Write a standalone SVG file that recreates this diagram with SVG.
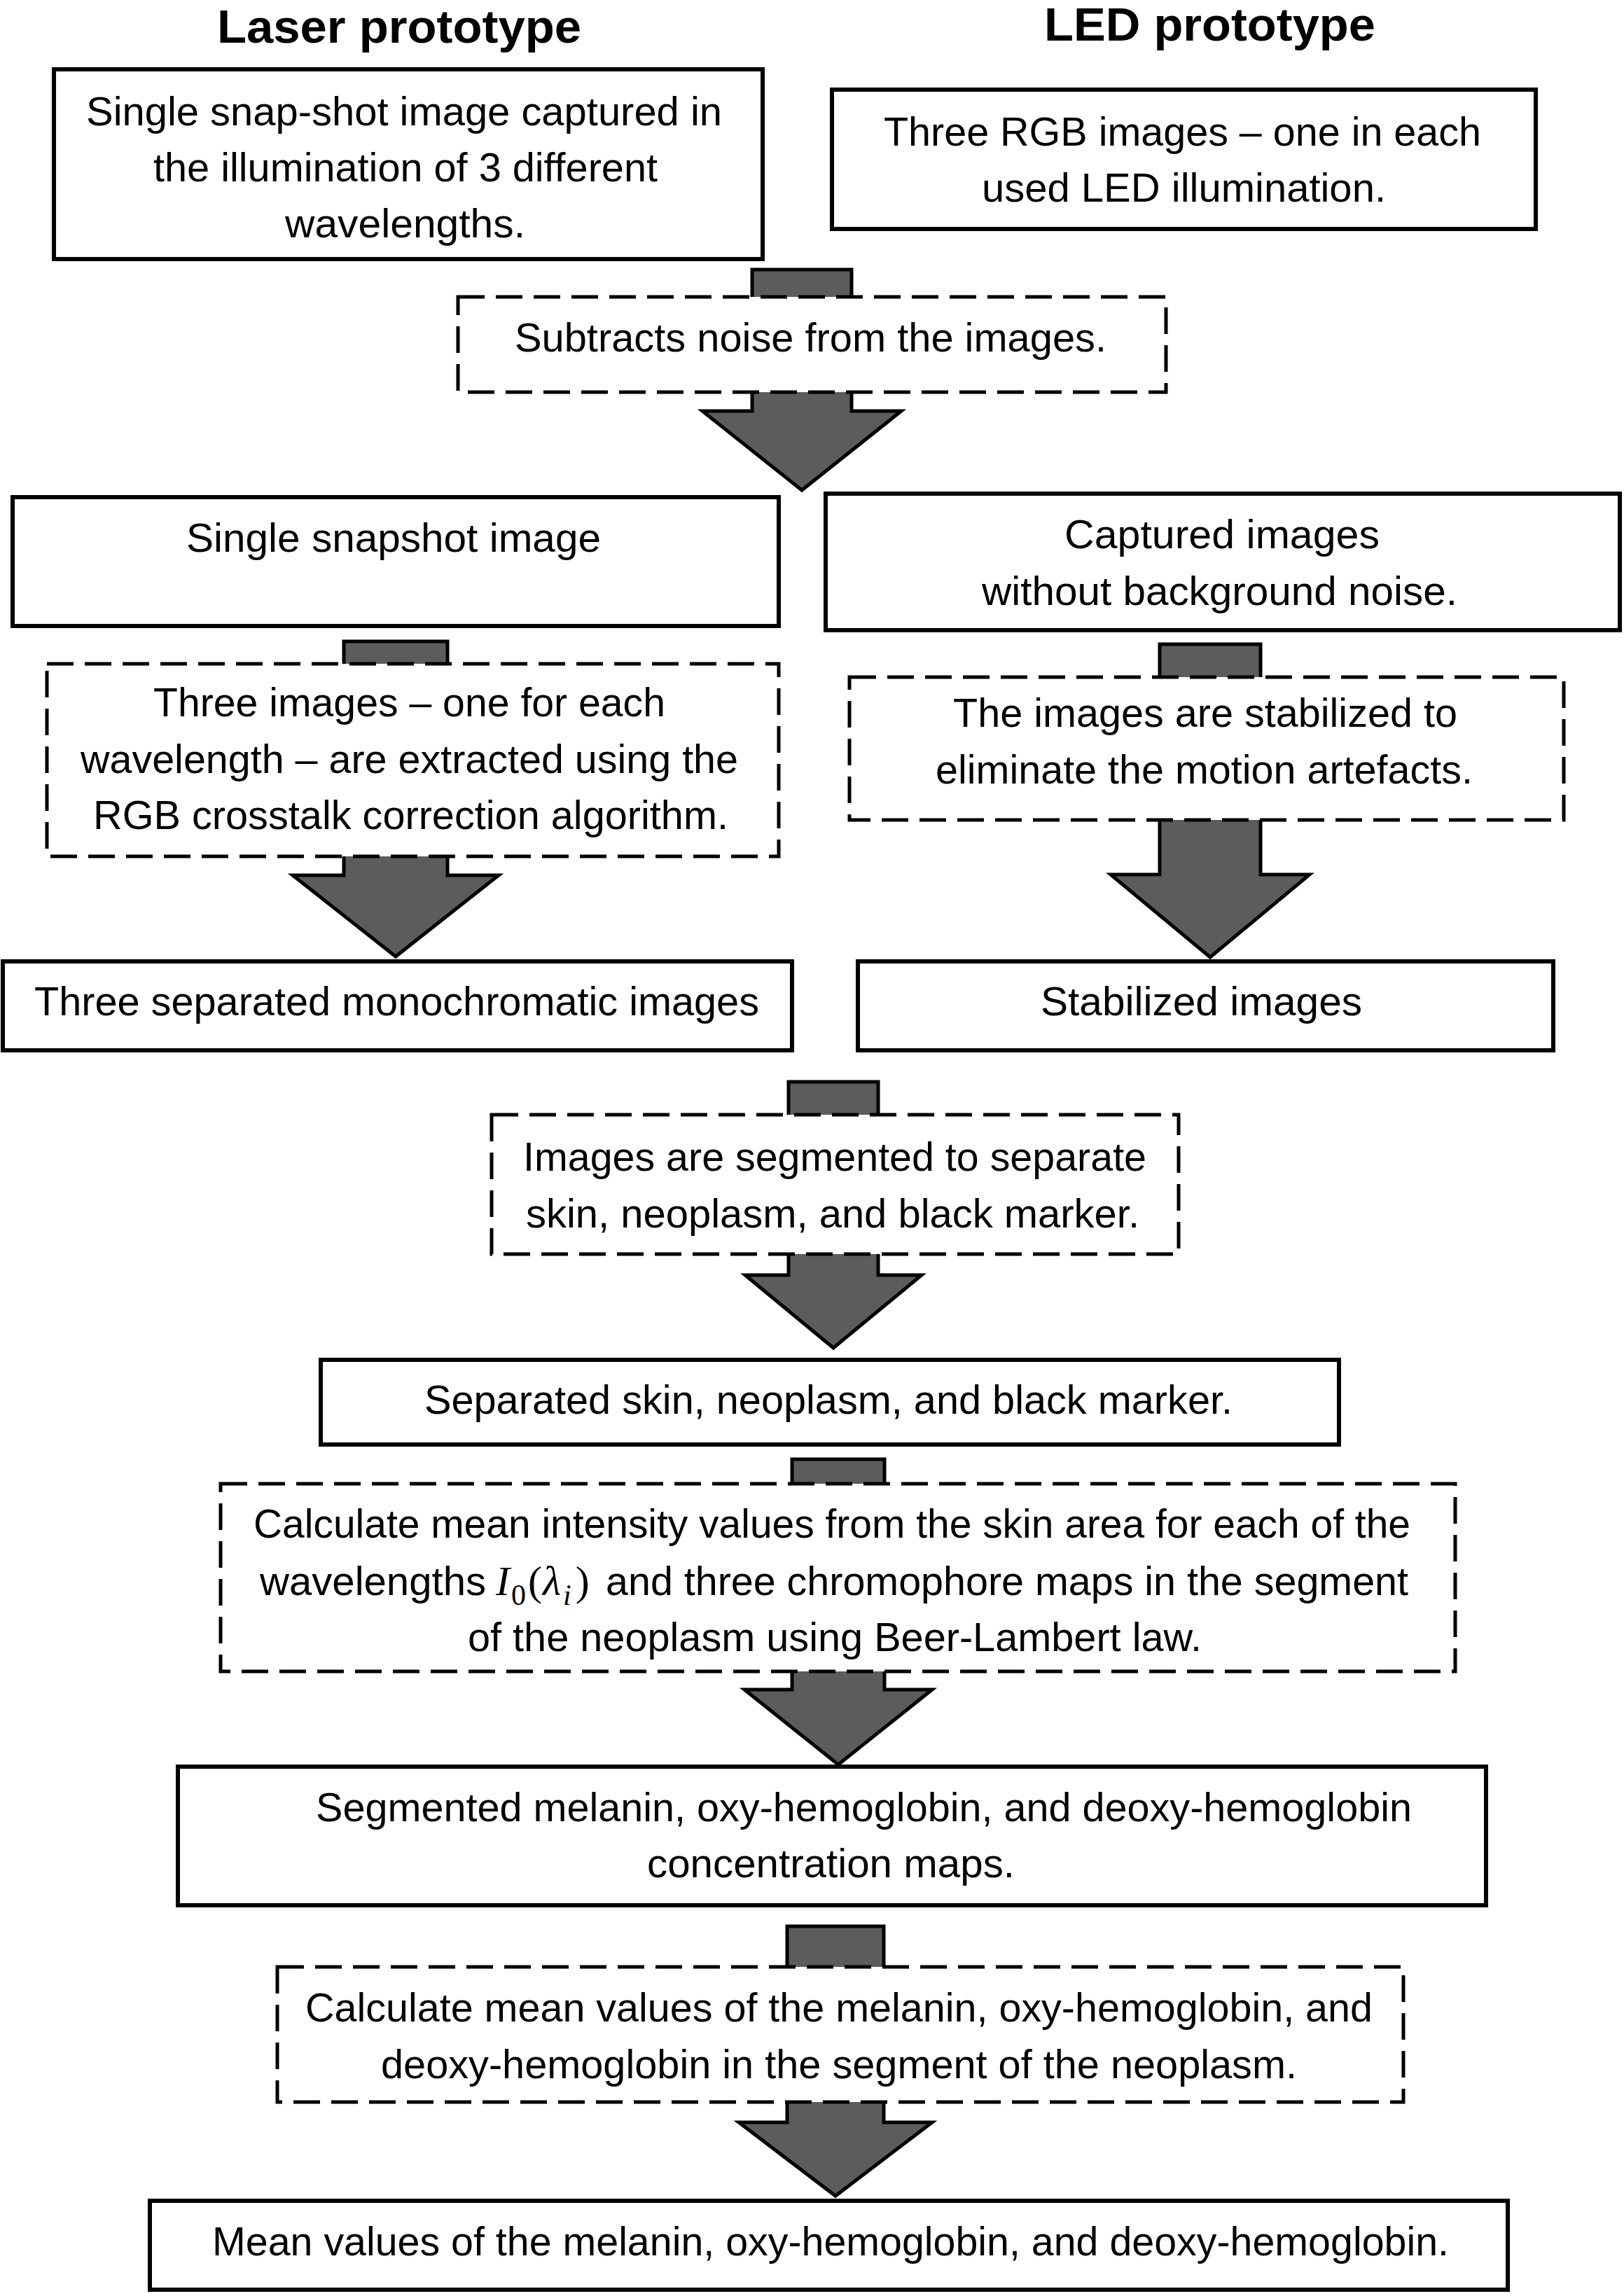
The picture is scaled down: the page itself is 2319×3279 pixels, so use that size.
<svg xmlns="http://www.w3.org/2000/svg" width="2319" height="3279" viewBox="0 0 2319 3279">
<style>
.box{fill:#fff;stroke:#000;stroke-width:6}
.dbox{fill:#fff;stroke:#000;stroke-width:5;stroke-dasharray:38 16}
.arrow{fill:#5c5c5c;stroke:#000;stroke-width:5;stroke-linejoin:miter}
.t{font-family:"Liberation Sans",Arial,sans-serif;font-size:58px;fill:#000}
.h{font-family:"Liberation Sans",Arial,sans-serif;font-weight:bold;font-size:66px;fill:#000}
.m{font-family:"Liberation Serif","Times New Roman",serif;font-size:60px;fill:#000}
</style>
<rect x="0" y="0" width="2319" height="3279" fill="#fff"/>
<g id="connectors">
<path class="arrow" d="M1074,385 H1216 V587 H1287 L1145,700 L1003,587 H1074 Z"/>
<path class="arrow" d="M491,916 H639 V1250 H712 L565,1366 L418,1250 H491 Z"/>
<path class="arrow" d="M1656,920 H1800 V1249 H1870 L1728,1367 L1586,1249 H1656 Z"/>
<path class="arrow" d="M1126,1545 H1254 V1821 H1316 L1190,1925 L1064,1821 H1126 Z"/>
<path class="arrow" d="M1131,2084 H1263 V2413 H1331 L1197,2520 L1063,2413 H1131 Z"/>
<path class="arrow" d="M1124,2751 H1262 V3031 H1331 L1193,3136 L1055,3031 H1124 Z"/>
</g>
<g id="title-laser"><text class="h" x="310" y="61" textLength="520" lengthAdjust="spacingAndGlyphs">Laser prototype</text></g>
<g id="title-led"><text class="h" x="1491" y="58" textLength="473" lengthAdjust="spacingAndGlyphs">LED prototype</text></g>
<g id="n-laser-input">
<rect class="box" x="77" y="99" width="1012" height="271"/>
<text class="t" x="123" y="179" textLength="908" lengthAdjust="spacingAndGlyphs">Single snap-shot image captured in</text>
<text class="t" x="219" y="259" textLength="720" lengthAdjust="spacingAndGlyphs">the illumination of 3 different</text>
<text class="t" x="407" y="339" textLength="343" lengthAdjust="spacingAndGlyphs">wavelengths.</text>
</g>
<g id="n-led-input">
<rect class="box" x="1188" y="128" width="1005" height="199"/>
<text class="t" x="1262" y="208" textLength="853" lengthAdjust="spacingAndGlyphs">Three RGB images – one in each</text>
<text class="t" x="1402" y="288" textLength="577" lengthAdjust="spacingAndGlyphs">used LED illumination.</text>
</g>
<g id="n-subtract">
<rect class="dbox" x="654" y="424" width="1011" height="136"/>
<text class="t" x="735" y="502" textLength="845" lengthAdjust="spacingAndGlyphs">Subtracts noise from the images.</text>
</g>
<g id="n-single-snapshot">
<rect class="box" x="18" y="710" width="1094" height="184"/>
<text class="t" x="266" y="788" textLength="592" lengthAdjust="spacingAndGlyphs">Single snapshot image</text>
</g>
<g id="n-captured">
<rect class="box" x="1179" y="705" width="1134" height="195"/>
<text class="t" x="1520" y="783" textLength="450" lengthAdjust="spacingAndGlyphs">Captured images</text>
<text class="t" x="1402" y="864" textLength="679" lengthAdjust="spacingAndGlyphs">without background noise.</text>
</g>
<g id="n-crosstalk">
<rect class="dbox" x="67" y="948" width="1045" height="275"/>
<text class="t" x="219" y="1023" textLength="731" lengthAdjust="spacingAndGlyphs">Three images – one for each</text>
<text class="t" x="115" y="1104" textLength="939" lengthAdjust="spacingAndGlyphs">wavelength – are extracted using the</text>
<text class="t" x="133" y="1184" textLength="907" lengthAdjust="spacingAndGlyphs">RGB crosstalk correction algorithm.</text>
</g>
<g id="n-stabilize">
<rect class="dbox" x="1213" y="967" width="1020" height="204"/>
<text class="t" x="1361" y="1038" textLength="720" lengthAdjust="spacingAndGlyphs">The images are stabilized to</text>
<text class="t" x="1336" y="1119" textLength="767" lengthAdjust="spacingAndGlyphs">eliminate the motion artefacts.</text>
</g>
<g id="n-mono">
<rect class="box" x="4" y="1373" width="1127" height="127"/>
<text class="t" x="49" y="1450" textLength="1035" lengthAdjust="spacingAndGlyphs">Three separated monochromatic images</text>
</g>
<g id="n-stabilized">
<rect class="box" x="1225" y="1373" width="993" height="127"/>
<text class="t" x="1486" y="1450" textLength="459" lengthAdjust="spacingAndGlyphs">Stabilized images</text>
</g>
<g id="n-segment">
<rect class="dbox" x="702" y="1592" width="981" height="199"/>
<text class="t" x="747" y="1672" textLength="890" lengthAdjust="spacingAndGlyphs">Images are segmented to separate</text>
<text class="t" x="751" y="1753" textLength="876" lengthAdjust="spacingAndGlyphs">skin, neoplasm, and black marker.</text>
</g>
<g id="n-separated">
<rect class="box" x="458" y="1942" width="1454" height="121"/>
<text class="t" x="606" y="2019" textLength="1154" lengthAdjust="spacingAndGlyphs">Separated skin, neoplasm, and black marker.</text>
</g>
<g id="n-calc-intensity">
<rect class="dbox" x="315" y="2119" width="1763" height="268"/>
<text class="t" x="362" y="2196" textLength="1652" lengthAdjust="spacingAndGlyphs">Calculate mean intensity values from the skin area for  each of the</text>
<text class="t" x="371" y="2278" textLength="323" lengthAdjust="spacingAndGlyphs">wavelengths</text>
<text class="m" x="708" y="2278"><tspan font-style="italic">I</tspan><tspan font-size="42" dy="14" dx="2">0</tspan><tspan dy="-14" dx="3">(</tspan><tspan font-style="italic" dx="1">λ</tspan><tspan font-style="italic" font-size="42" dy="14" dx="3">i</tspan><tspan dy="-14" dx="6">)</tspan></text>
<text class="t" x="865" y="2278" textLength="1146" lengthAdjust="spacingAndGlyphs">and three chromophore maps in the segment</text>
<text class="t" x="668" y="2358" textLength="1048" lengthAdjust="spacingAndGlyphs">of the neoplasm using Beer-Lambert law.</text>
</g>
<g id="n-maps">
<rect class="box" x="254" y="2523" width="1868" height="198"/>
<text class="t" x="451" y="2601" textLength="1565" lengthAdjust="spacingAndGlyphs">Segmented melanin, oxy-hemoglobin, and deoxy-hemoglobin</text>
<text class="t" x="924" y="2681" textLength="525" lengthAdjust="spacingAndGlyphs">concentration maps.</text>
</g>
<g id="n-calc-mean">
<rect class="dbox" x="396" y="2809" width="1608" height="193"/>
<text class="t" x="436" y="2887" textLength="1524" lengthAdjust="spacingAndGlyphs">Calculate mean values of the  melanin, oxy-hemoglobin, and</text>
<text class="t" x="544" y="2968" textLength="1308" lengthAdjust="spacingAndGlyphs">deoxy-hemoglobin in the segment of the neoplasm.</text>
</g>
<g id="n-result">
<rect class="box" x="214" y="3143" width="1939" height="127"/>
<text class="t" x="303" y="3221" textLength="1766" lengthAdjust="spacingAndGlyphs">Mean values of the melanin, oxy-hemoglobin, and deoxy-hemoglobin.</text>
</g>
</svg>
